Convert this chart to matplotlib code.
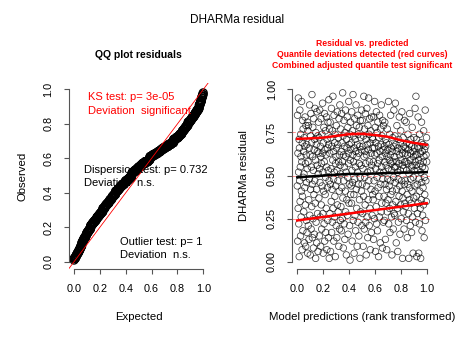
import numpy as np
import matplotlib
matplotlib.use("Agg")
import matplotlib.pyplot as plt

plt.rcParams['font.family'] = ['Liberation Sans', 'DejaVu Sans']

W, H = 474, 338

# scaled residuals, in order of rank-transformed model prediction
resid = [
    0.44, 0.85, 0.12, 0.63, 0.31, 0.95, 0.52, 0.22, 0.71, 0.03,
    0.66, 0.47, 0.88, 0.35, 0.55, 0.15, 0.74, 0.61, 0.26, 0.41,
    0.93, 0.58, 0.07, 0.69, 0.38, 0.82, 0.18, 0.77, 0.49, 0.64,
    0.29, 0.51, 0.72, 0.11, 0.67, 0.43, 0.84, 0.33, 0.57, 0.09,
    0.79, 0.62, 0.24, 0.46, 0.68, 0.17, 0.54, 0.81, 0.05, 0.76,
    0.58, 0.21, 0.79, 0.36, 0.13, 0.66, 0.48, 0.91, 0.27, 0.62,
    0.04, 0.73, 0.42, 0.86, 0.19, 0.55, 0.69, 0.32, 0.97, 0.45,
    0.14, 0.61, 0.78, 0.25, 0.53, 0.08, 0.83, 0.39, 0.65, 0.16,
    0.71, 0.47, 0.89, 0.34, 0.59, 0.02, 0.75, 0.23, 0.68, 0.42,
    0.11, 0.87, 0.56, 0.64, 0.28, 0.73, 0.06, 0.51, 0.81, 0.63,
    0.37, 0.72, 0.15, 0.54, 0.88, 0.46, 0.26, 0.67, 0.09, 0.61,
    0.83, 0.33, 0.57, 0.19, 0.74, 0.44, 0.63, 0.92, 0.28, 0.52,
    0.05, 0.69, 0.41, 0.78, 0.22, 0.58, 0.86, 0.12, 0.65, 0.39,
    0.76, 0.49, 0.17, 0.62, 0.31, 0.84, 0.55, 0.07, 0.71, 0.43,
    0.66, 0.24, 0.81, 0.53, 0.14, 0.68, 0.94, 0.47, 0.02, 0.77,
    0.63, 0.28, 0.81, 0.45, 0.06, 0.72, 0.54, 0.35, 0.89, 0.17,
    0.67, 0.42, 0.23, 0.76, 0.59, 0.96, 0.31, 0.64, 0.48, 0.12,
    0.85, 0.52, 0.26, 0.69, 0.38, 0.74, 0.03, 0.57, 0.44, 0.61,
    0.21, 0.79, 0.66, 0.14, 0.53, 0.87, 0.33, 0.68, 0.47, 0.29,
    0.72, 0.58, 0.09, 0.83, 0.41, 0.62, 0.19, 0.91, 0.56, 0.24,
    0.51, 0.77, 0.32, 0.64, 0.18, 0.86, 0.43, 0.69, 0.25, 0.58,
    0.98, 0.37, 0.73, 0.08, 0.62, 0.47, 0.82, 0.22, 0.55, 0.67,
    0.13, 0.75, 0.41, 0.88, 0.29, 0.61, 0.52, 0.04, 0.71, 0.36,
    0.66, 0.84, 0.27, 0.49, 0.78, 0.16, 0.63, 0.57, 0.93, 0.34,
    0.68, 0.45, 0.21, 0.74, 0.01, 0.59, 0.81, 0.39, 0.65, 0.44,
    0.69, 0.34, 0.87, 0.53, 0.12, 0.76, 0.46, 0.62, 0.97, 0.24,
    0.58, 0.73, 0.39, 0.05, 0.66, 0.83, 0.48, 0.27, 0.71, 0.55,
    0.18, 0.64, 0.91, 0.42, 0.79, 0.31, 0.61, 0.09, 0.68, 0.52,
    0.85, 0.23, 0.74, 0.45, 0.63, 0.15, 0.57, 0.78, 0.36, 0.67,
    0.02, 0.49, 0.82, 0.29, 0.72, 0.56, 0.65, 0.41, 0.88, 0.21,
    0.45, 0.82, 0.28, 0.67, 0.54, 0.09, 0.73, 0.38, 0.96, 0.61,
    0.19, 0.77, 0.49, 0.64, 0.33, 0.86, 0.57, 0.23, 0.71, 0.04,
    0.62, 0.44, 0.89, 0.26, 0.68, 0.52, 0.14, 0.79, 0.36, 0.65,
    0.95, 0.47, 0.74, 0.21, 0.58, 0.83, 0.31, 0.69, 0.07, 0.53,
    0.76, 0.42, 0.63, 0.17, 0.84, 0.56, 0.27, 0.72, 0.66, 0.39,
    0.71, 0.36, 0.58, 0.13, 0.84, 0.47, 0.66, 0.25, 0.93, 0.62,
    0.41, 0.78, 0.06, 0.54, 0.69, 0.32, 0.87, 0.22, 0.63, 0.49,
    0.75, 0.18, 0.57, 0.81, 0.43, 0.67, 0.03, 0.72, 0.38, 0.59,
    0.26, 0.85, 0.52, 0.64, 0.11, 0.77, 0.45, 0.68, 0.29, 0.91,
    0.55, 0.34, 0.73, 0.61, 0.08, 0.82, 0.48, 0.65, 0.23, 0.79,
    0.52, 0.38, 0.67, 0.24, 0.58, 0.81, 0.45, 0.63, 0.13, 0.71,
    0.34, 0.56, 0.69, 0.42, 0.07, 0.61, 0.29, 0.77, 0.48, 0.65,
    0.36, 0.54, 0.93, 0.22, 0.68, 0.44, 0.59, 0.31, 0.74, 0.17,
    0.62, 0.47, 0.85, 0.39, 0.57, 0.66, 0.26, 0.53, 0.04, 0.64,
    0.41, 0.72, 0.33, 0.58, 0.19, 0.67, 0.49, 0.88, 0.28, 0.55,
    0.61, 0.27, 0.73, 0.46, 0.92, 0.55, 0.35, 0.68, 0.11, 0.58,
    0.42, 0.79, 0.64, 0.31, 0.52, 0.06, 0.66, 0.48, 0.23, 0.71,
    0.57, 0.38, 0.84, 0.62, 0.44, 0.16, 0.69, 0.53, 0.33, 0.76,
    0.59, 0.25, 0.65, 0.47, 0.87, 0.41, 0.63, 0.02, 0.56, 0.37,
    0.72, 0.29, 0.54, 0.67, 0.19, 0.45, 0.82, 0.58, 0.34, 0.63,
    0.47, 0.66, 0.32, 0.58, 0.81, 0.24, 0.53, 0.69, 0.39, 0.14,
    0.62, 0.45, 0.74, 0.57, 0.28, 0.65, 0.02, 0.51, 0.36, 0.68,
    0.86, 0.43, 0.59, 0.21, 0.63, 0.48, 0.71, 0.34, 0.55, 0.17,
    0.67, 0.41, 0.78, 0.56, 0.26, 0.64, 0.05, 0.49, 0.61, 0.37,
    0.72, 0.53, 0.31, 0.66, 0.44, 0.89, 0.58, 0.23, 0.62, 0.96,
    0.56, 0.38, 0.71, 0.03, 0.62, 0.45, 0.28, 0.67, 0.53, 0.84,
    0.34, 0.59, 0.05, 0.48, 0.66, 0.22, 0.74, 0.41, 0.57, 0.31,
    0.63, 0.02, 0.52, 0.69, 0.36, 0.81, 0.46, 0.18, 0.64, 0.55,
    0.27, 0.68, 0.43, 0.58, 0.33, 0.76, 0.61, 0.14, 0.49, 0.65,
    0.39, 0.54, 0.88, 0.24, 0.67, 0.47, 0.62, 0.35, 0.72, 0.58,
]

# fitted quantile curves
q_x = [0.0, 0.1, 0.2, 0.3, 0.4, 0.5, 0.6, 0.7, 0.8, 0.9, 1.0]
q_lower = [0.24, 0.25, 0.26, 0.27, 0.28, 0.29, 0.30, 0.31, 0.32, 0.33, 0.34]
q_median = [0.49, 0.495, 0.50, 0.505, 0.51, 0.51, 0.512, 0.515, 0.517, 0.518, 0.52]
q_upper = [0.713, 0.716, 0.72, 0.73, 0.74, 0.742, 0.735, 0.725, 0.705, 0.69, 0.678]
ref_levels = [0.25, 0.5, 0.75]

qq_ticks = [0.0, 0.2, 0.4, 0.6, 0.8, 1.0]
res_yticks = [0.0, 0.25, 0.5, 0.75, 1.0]

resid = np.array(resid)
n = len(resid)
rank_x = np.arange(n) / (n - 1)
expected = (np.arange(1, n + 1) - 0.5) / n
observed = np.sort(resid)


def rect(x0, x1, y0, y1):
    return [x0 / W, 1 - y1 / H, (x1 - x0) / W, (y1 - y0) / H]


def r_axes(ax, xt, yt, xfmt, yfmt):
    ax.set_xlim(-0.04, 1.04)
    ax.set_ylim(-0.04, 1.04)
    for s in ['top', 'right']:
        ax.spines[s].set_visible(False)
    for s in ['left', 'bottom']:
        ax.spines[s].set_bounds(0, 1)
        ax.spines[s].set_color('#555555')
        ax.spines[s].set_linewidth(0.8)
    ax.set_xticks(xt)
    ax.set_xticklabels([xfmt % v for v in xt])
    ax.set_yticks(yt)
    ax.set_yticklabels([yfmt % v for v in yt], rotation=90, va='center')
    ax.tick_params(direction='out', length=3.6, width=0.8, color='#555555',
                   labelsize=7.8, pad=7.5)


fig = plt.figure(figsize=(W / 100, H / 100), dpi=100)

# QQ plot
ax1 = fig.add_axes(rect(68.8, 208.5, 82.5, 268.7))
r_axes(ax1, qq_ticks, qq_ticks, '%.1f', '%.1f')
ax1.scatter(expected, observed, s=32, facecolors='none', edgecolors='black',
            linewidths=1.0, zorder=2)
ax1.plot([-0.04, 1.04], [-0.04, 1.04], color='red', lw=0.6, zorder=3)
ax1.text(0.11, 0.955, 'KS test: p= 3e-05', color='red', fontsize=8,
         va='center')
ax1.text(0.11, 0.875, 'Deviation  significant', color='red', fontsize=8,
         va='center')
ax1.text(0.075, 0.535, 'Dispersion test: p= 0.732', fontsize=8, va='center')
ax1.text(0.075, 0.458, 'Deviation  n.s.', fontsize=8, va='center')
ax1.text(0.355, 0.114, 'Outlier test: p= 1', fontsize=8, va='center')
ax1.text(0.355, 0.037, 'Deviation  n.s.', fontsize=8, va='center')

# residual vs predicted
ax2 = fig.add_axes(rect(292.1, 431.9, 82.5, 268.7))
r_axes(ax2, qq_ticks, res_yticks, '%.1f', '%.2f')
ax2.scatter(rank_x, resid, s=22, facecolors='none', edgecolors='black',
            linewidths=0.55, alpha=0.75, zorder=2)
for lv in ref_levels:
    ax2.axhline(lv, color='red', lw=0.6, ls=(0, (4, 3)), alpha=0.5, zorder=3)
ax2.plot(q_x, q_lower, color='red', lw=1.8, zorder=4)
ax2.plot(q_x, q_median, color='black', lw=1.8, zorder=4)
ax2.plot(q_x, q_upper, color='red', lw=1.8, zorder=4)

# texts
def ftext(x, y, s, **kw):
    fig.text(x / W, 1 - y / H, s, ha='center', va='center', **kw)

ftext(237, 20, 'DHARMa residual', fontsize=8.5)
ftext(138.5, 55, 'QQ plot residuals', fontsize=7.5, fontweight='bold')
ftext(362, 43.5, 'Residual vs. predicted', fontsize=6.2, fontweight='bold',
      color='red')
ftext(362, 54.5, 'Quantile deviations detected (red curves)', fontsize=6.2,
      fontweight='bold', color='red')
ftext(362, 65.5, 'Combined adjusted quantile test significant', fontsize=6.2,
      fontweight='bold', color='red')
ftext(138.5, 316.5, 'Expected', fontsize=8.2)
ftext(362, 316.5, 'Model predictions (rank transformed)', fontsize=8.2)
ftext(22, 176, 'Observed', fontsize=8.2, rotation=90)
ftext(244, 176, 'DHARMa residual', fontsize=8.2, rotation=90)

fig.savefig('out.png', dpi=100)
